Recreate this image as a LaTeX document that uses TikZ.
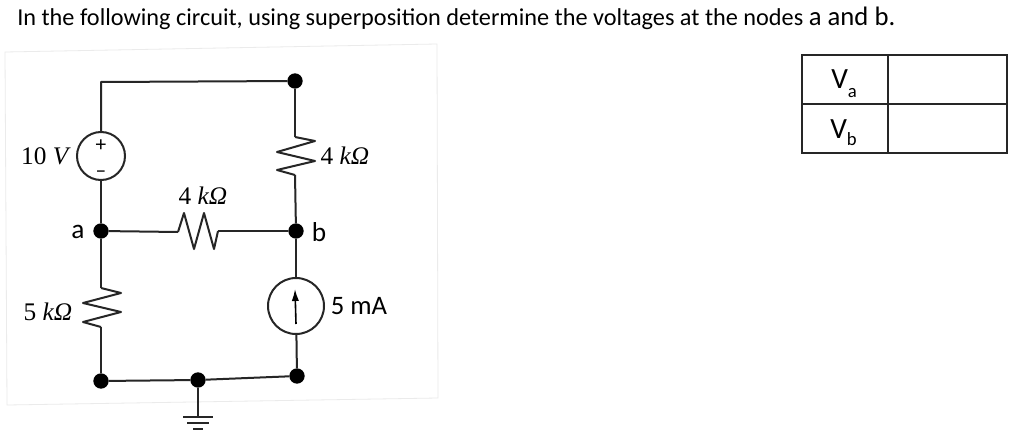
\documentclass[tikz,border=0pt]{standalone}
\usepackage{fontspec}
\setmainfont{Carlito}
\newfontfamily\bookfont{Liberation Serif}
\usepackage{tikz}
\usetikzlibrary{positioning,%
  arrows.meta,%
  calc%
}
\tikzset{
  wire/.style={line width=1.5pt,draw=black!85,line join=round},
  dot/.style={circle,fill=black,inner sep=0pt,minimum size=11.5pt},
  source/.style={circle,draw=black!85,line width=1.5pt,inner sep=0pt},
  scanedge/.style={line width=.6pt,draw=black!8},
  cell/.style={draw=black!85,line width=1.2pt,minimum width=64.5pt,minimum height=36.75pt,inner sep=0pt,anchor=north west},
  booklabel/.style={font=\bookfont\fontsize{19}{20}\selectfont,inner sep=0pt},
  pinlabel/.style={font=\fontsize{20.5}{22}\selectfont,inner sep=0pt},
  celllabel/.style={font=\fontsize{22}{24}\selectfont,inner sep=0pt,anchor=base west}
}
\begin{document}
\begin{tikzpicture}[x=0.75pt,y=-0.75pt]
    \useasboundingbox (0,0) rectangle (1012,435);
    \fill [white] (0,0) rectangle (1012,435);

    % heading
    \node [anchor=base west,inner sep=0pt,font=\fontsize{18.2}{20}\selectfont] (heading) at (17,25.5)
        {In the following circuit, using superposition determine the voltages at the nodes {\fontsize{20}{20}\selectfont a and b.}};

    % edge of the pasted figure
    \draw [scanedge] (5,52) -- (437,44) -- (438,398) -- (7,405) -- cycle;

    % junctions
    \node [dot] (top) at (295,81) {};
    \node [dot] (a) at (101,231) {};
    \node [dot] (b) at (296,231) {};
    \node [dot] (botl) at (101,381) {};
    \node [dot] (botm) at (198,380) {};
    \node [dot] (botr) at (297,376) {};
    \coordinate (corner) at (101,82);
    \coordinate (gnd) at (198,417);

    % sources
    \node [source,minimum size=36pt] (vs) at (101,156) {};
    \node [source,minimum size=42pt] (is) at (296,306) {};
    \node [inner sep=0pt,font=\fontsize{16}{16}\selectfont] (plus) at (101,146) {+};
    \node [inner sep=0pt,font=\fontsize{16}{16}\selectfont] (minus) at (101,174) {--};
    \coordinate (istail) at (296,324);
    \coordinate (ishead) at (295,289);
    \draw [-{Latex[length=9pt,width=5.5pt]},line width=1.2pt] (istail) -- (ishead);

    % resistors
    \coordinate (r1a) at (295,137);
    \coordinate (r1b) at (295,175);
    \coordinate (r2a) at (178,232);
    \coordinate (r2b) at (218,231);
    \coordinate (r3a) at (101,288);
    \coordinate (r3b) at (101,327);
    \draw [wire] (r1a) -- (315,141) -- (277,152) -- (315,161) -- (277,170) -- (r1b);
    \draw [wire] (r2a) -- (184,213) -- (194,249) -- (204,213) -- (214,249) -- (r2b);
    \draw [wire] (r3a) -- (121,293) -- (83,303) -- (121,312) -- (83,322) -- (r3b);

    % wires
    \draw [wire] (top) -- (corner) -- (vs);
    \draw [wire] (top) -- (r1a);
    \draw [wire] (r1b) -- (b);
    \draw [wire] (vs) -- (a);
    \draw [wire] (a) -- (r2a);
    \draw [wire] (r2b) -- (b);
    \draw [wire] (a) -- (r3a);
    \draw [wire] (r3b) -- (botl);
    \draw [wire] (b) -- (is);
    \draw [wire] (is) -- (botr);
    \draw [wire] (botl) -- (botm) -- (botr);
    \draw [wire] (botm) -- (gnd);

    % ground
    \coordinate (g1) at (183,417);
    \coordinate (g2) at (213,417);
    \coordinate (g3) at (187,423);
    \coordinate (g4) at (209,423);
    \coordinate (g5) at (193,429);
    \coordinate (g6) at (203,429);
    \draw [wire] (g1) -- (g2);
    \draw [wire] (g3) -- (g4);
    \draw [wire] (g5) -- (g6);

    % labels
    \node [booklabel] (lvs) at (46,156) {10 \textit{V}};
    \node [booklabel] (lr1) at (345,156) {4 \textit{k\symbol{"03A9}}};
    \node [booklabel] (lr2) at (203,196) {4 \textit{k\symbol{"03A9}}};
    \node [booklabel] (lr3) at (48,312) {5 \textit{k\symbol{"03A9}}};
    \node [pinlabel] (la) at (78,232) {a};
    \node [pinlabel] (lb) at (319,232) {b};
    \node [pinlabel,font=\fontsize{20}{22}\selectfont] (lis) at (359,306) {5 mA};

    % table
    \node [cell,minimum width=64.5pt] (va) at (801,54) {};
    \node [cell,minimum width=89.25pt] (vaval) at (887,54) {};
    \node [cell,minimum width=64.5pt] (vb) at (801,103) {};
    \node [cell,minimum width=89.25pt] (vbval) at (887,103) {};
    \node [celllabel] (lva) at (831,89) {V\raisebox{-6.5pt}{\fontsize{14}{14}\selectfont a}};
    \node [celllabel] (lvb) at (830,138) {V\raisebox{-5.5pt}{\fontsize{14}{14}\selectfont b}};
\end{tikzpicture}
\end{document}
